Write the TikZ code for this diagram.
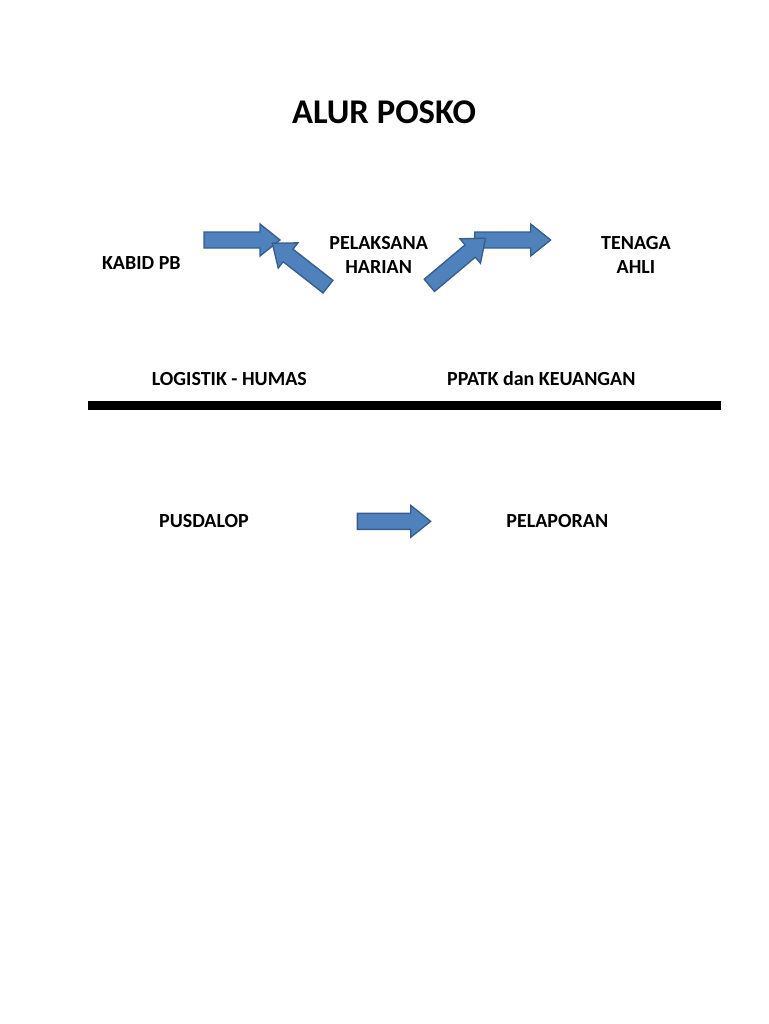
\documentclass[tikz,border=0pt]{standalone}
\usepackage{fontspec}
\setmainfont{Carlito}
\begin{document}
\begin{tikzpicture}[x=1pt,y=-1pt,
  lbl/.style={font=\bfseries\fontsize{15}{18}\selectfont,align=center,inner sep=0},
  barrow/.style={fill=blue!55!black!60!white, fill={rgb,255:red,79;green,129;blue,189}, draw={rgb,255:red,56;green,93;blue,138}, line width=1pt}]
\useasboundingbox (0,0) rectangle (576,768);
% \blockarrow{x}{y}{angle}{length}
\newcommand\blockarrow[4]{%
  \begin{scope}[shift={(#1,#2)},rotate=#3]
    \path[barrow] (0,-6) -- (#4-15,-6) -- (#4-15,-12) -- (#4,0) -- (#4-15,12) -- (#4-15,6) -- (0,6) -- cycle;
  \end{scope}}
\node[font=\bfseries\fontsize{26}{30}\selectfont] (title) at (288,84) {ALUR POSKO};
\node[lbl] (kabid) at (106,197) {KABID PB};
\node[lbl] (ph) at (284,191) {PELAKSANA\\HARIAN};
\node[lbl] (ta) at (477,191) {TENAGA\\AHLI};
\node[lbl] (log) at (172,284) {LOGISTIK - HUMAS};
\node[lbl] (ppatk) at (406,284) {PPATK dan KEUANGAN};
\node[lbl] (pus) at (153,391) {PUSDALOP};
\node[lbl] (pel) at (418,391) {PELAPORAN};
\blockarrow{153}{180}{0}{57}
\blockarrow{356}{180}{0}{57}
\blockarrow{246}{215}{142}{53}
\blockarrow{322}{214}{40}{55}
\blockarrow{268}{391}{0}{55}
\draw[line width=6.5pt] (66,304) coordinate (la) -- (541,304) coordinate (lb);
\end{tikzpicture}
\end{document}
